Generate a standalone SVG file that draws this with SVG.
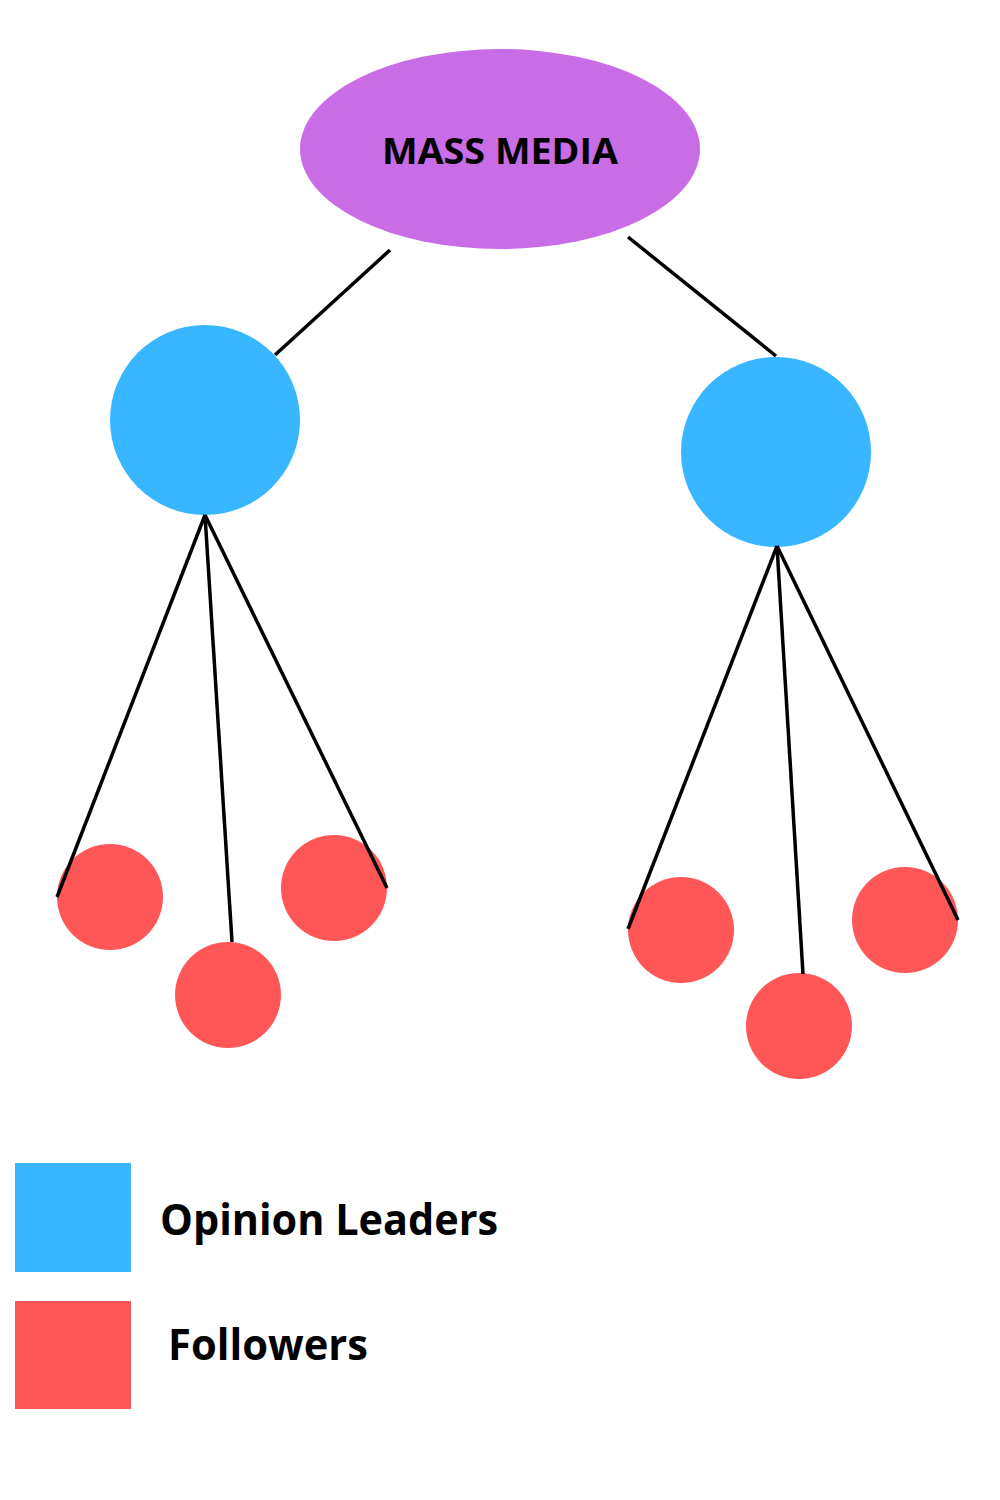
<svg xmlns="http://www.w3.org/2000/svg" width="1000" height="1500" viewBox="0 0 1000 1500">
<style>
.lbl{font-family:"Open Sans","Noto Sans","Liberation Sans",sans-serif;font-weight:700;fill:#000}
.lead{fill:#38B6FF}
.fol{fill:#FF5757}
.edge{stroke:#000;stroke-width:3.5;stroke-linecap:butt;fill:none}
</style>
<rect width="1000" height="1500" fill="#fff"/>
<g id="mass-media">
<ellipse cx="500" cy="149" rx="200" ry="100" fill="#C86DE6"/>
<text class="lbl" x="500" y="164" font-size="36" text-anchor="middle" textLength="236" lengthAdjust="spacingAndGlyphs">MASS MEDIA</text>
</g>
<g id="leader-left"><circle class="lead" cx="205" cy="420" r="95"/></g>
<g id="leader-right"><circle class="lead" cx="776" cy="452" r="95"/></g>
<g id="follower-l1"><circle class="fol" cx="110" cy="897" r="53"/></g>
<g id="follower-l2"><circle class="fol" cx="228" cy="995" r="53"/></g>
<g id="follower-l3"><circle class="fol" cx="334" cy="888" r="53"/></g>
<g id="follower-r1"><circle class="fol" cx="681" cy="930" r="53"/></g>
<g id="follower-r2"><circle class="fol" cx="799" cy="1026" r="53"/></g>
<g id="follower-r3"><circle class="fol" cx="905" cy="920" r="53"/></g>
<g id="connectors">
<line class="edge" x1="390" y1="250" x2="275" y2="355"/>
<line class="edge" x1="628" y1="237" x2="776" y2="356"/>
<line class="edge" x1="205" y1="515" x2="57" y2="897"/>
<line class="edge" x1="205" y1="515" x2="232" y2="942"/>
<line class="edge" x1="205" y1="515" x2="387" y2="888"/>
<line class="edge" x1="777" y1="546" x2="628" y2="929"/>
<line class="edge" x1="777" y1="546" x2="803" y2="974"/>
<line class="edge" x1="777" y1="546" x2="958" y2="920"/>
</g>
<g id="legend">
<g id="legend-leaders">
<rect class="lead" x="15" y="1163" width="116" height="109"/>
<text class="lbl" x="160" y="1235" font-size="43" textLength="338" lengthAdjust="spacingAndGlyphs">Opinion Leaders</text>
</g>
<g id="legend-followers">
<rect class="fol" x="15" y="1301" width="116" height="108"/>
<text class="lbl" x="168" y="1360" font-size="43" textLength="200" lengthAdjust="spacingAndGlyphs">Followers</text>
</g>
</g>
</svg>
